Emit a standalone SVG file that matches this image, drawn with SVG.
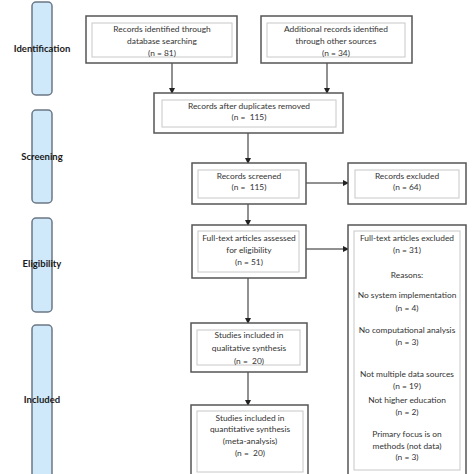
<svg xmlns="http://www.w3.org/2000/svg" width="474" height="474" viewBox="0 0 474 474">
<defs>
<marker id="ah" markerWidth="6" markerHeight="6" refX="5" refY="3" orient="auto" markerUnits="userSpaceOnUse">
<path d="M0,0 L6,3 L0,6 Z" fill="#222"/>
</marker>
<style>
.bar{fill:#cfe9fa;stroke:#6b7785;stroke-width:1.5}
.bl{font-family:Lato,"Liberation Sans",sans-serif;font-weight:bold;font-size:9.5px;fill:#1a1a1a;text-anchor:middle}
.out{fill:#fff;stroke:#555;stroke-width:1.5}
.in{fill:#fff;stroke:#c8c8c8;stroke-width:1}
.t{font-family:Lato,"Liberation Sans",sans-serif;font-size:8.4px;fill:#333;text-anchor:middle;white-space:pre}
.c{stroke:#222;stroke-width:1;fill:none;marker-end:url(#ah)}
</style>
</defs>
<rect width="474" height="474" fill="#fff"/>
<g id="stage-identification"><rect class="bar" x="32" y="2" width="20" height="93" rx="4"/><text class="bl" x="42" y="52">Identification</text></g>
<g id="stage-screening"><rect class="bar" x="32" y="110" width="20" height="93" rx="4"/><text class="bl" x="42" y="160">Screening</text></g>
<g id="stage-eligibility"><rect class="bar" x="32" y="218" width="20" height="94" rx="4"/><text class="bl" x="42" y="267">Eligibility</text></g>
<g id="stage-included"><rect class="bar" x="32" y="325" width="20" height="160" rx="4"/><text class="bl" x="42" y="403">Included</text></g>

<g id="connectors">
<line class="c" x1="172" y1="63" x2="172" y2="93"/>
<line class="c" x1="327" y1="63" x2="327" y2="93"/>
<line class="c" x1="248" y1="133" x2="248" y2="163"/>
<line class="c" x1="306" y1="183" x2="348" y2="183"/>
<line class="c" x1="248" y1="204" x2="248" y2="225"/>
<line class="c" x1="306" y1="249" x2="348" y2="249"/>
<line class="c" x1="248" y1="278" x2="248" y2="323"/>
<line class="c" x1="248" y1="372" x2="248" y2="405"/>
</g>

<g id="db-records"><rect class="out" x="86" y="16" width="151" height="47"/><rect class="in" x="92" y="23" width="140" height="34"/>
<text class="t" x="162" y="32">Records identified through</text><text class="t" x="162" y="44">database searching</text><text class="t" x="162" y="56">(n = 81)</text></g>

<g id="other-records"><rect class="out" x="261" y="16" width="151" height="47"/><rect class="in" x="267" y="23" width="138" height="34"/>
<text class="t" x="336" y="32">Additional records identified</text><text class="t" x="336" y="44">through other sources</text><text class="t" x="336" y="56">(n = 34)</text></g>

<g id="dedup"><rect class="out" x="154" y="93" width="189" height="40"/><rect class="in" x="162" y="100" width="174" height="27"/>
<text class="t" x="249" y="109">Records after duplicates removed</text><text class="t" x="249" y="120">(n =  115)</text></g>

<g id="screened"><rect class="out" x="192" y="163" width="114" height="41"/><rect class="in" x="198" y="170" width="101" height="28"/>
<text class="t" x="249" y="179">Records screened</text><text class="t" x="249" y="190">(n =  115)</text></g>

<g id="excluded"><rect class="out" x="348" y="163" width="118" height="41"/><rect class="in" x="355" y="170" width="104" height="28"/>
<text class="t" x="407" y="179">Records excluded</text><text class="t" x="407" y="190">(n = 64)</text></g>

<g id="fulltext"><rect class="out" x="192" y="225" width="114" height="53"/><rect class="in" x="198" y="231" width="101" height="41"/>
<text class="t" x="249" y="241">Full-text articles assessed</text><text class="t" x="249" y="253">for eligibility</text><text class="t" x="249" y="265">(n = 51)</text></g>

<g id="fulltext-excluded"><rect class="out" x="348" y="225" width="118" height="252"/><rect class="in" x="354" y="231" width="106" height="239"/>
<text class="t" x="407" y="241">Full-text articles excluded</text><text class="t" x="407" y="253">(n = 31)</text>
<text class="t" x="407" y="278">Reasons:</text>
<text class="t" x="407" y="298">No system implementation</text><text class="t" x="407" y="311">(n = 4)</text>
<text class="t" x="407" y="333">No computational analysis</text><text class="t" x="407" y="345">(n = 3)</text>
<text class="t" x="407" y="377">Not multiple data sources</text><text class="t" x="407" y="389">(n = 19)</text>
<text class="t" x="407" y="403">Not higher education</text><text class="t" x="407" y="415">(n = 2)</text>
<text class="t" x="407" y="437">Primary focus is on</text><text class="t" x="407" y="449">methods (not data)</text><text class="t" x="407" y="460">(n = 3)</text></g>

<g id="qualitative"><rect class="out" x="191" y="323" width="116" height="49"/><rect class="in" x="197" y="330" width="103" height="35"/>
<text class="t" x="249" y="338">Studies included in</text><text class="t" x="249" y="351">qualitative synthesis</text><text class="t" x="249" y="364">(n =  20)</text></g>

<g id="quantitative"><rect class="out" x="191" y="405" width="117" height="72"/><rect class="in" x="197" y="411" width="106" height="61"/>
<text class="t" x="250" y="421">Studies included in</text><text class="t" x="250" y="432">quantitative synthesis</text><text class="t" x="250" y="444">(meta-analysis)</text><text class="t" x="250" y="456">(n =  20)</text></g>
</svg>
